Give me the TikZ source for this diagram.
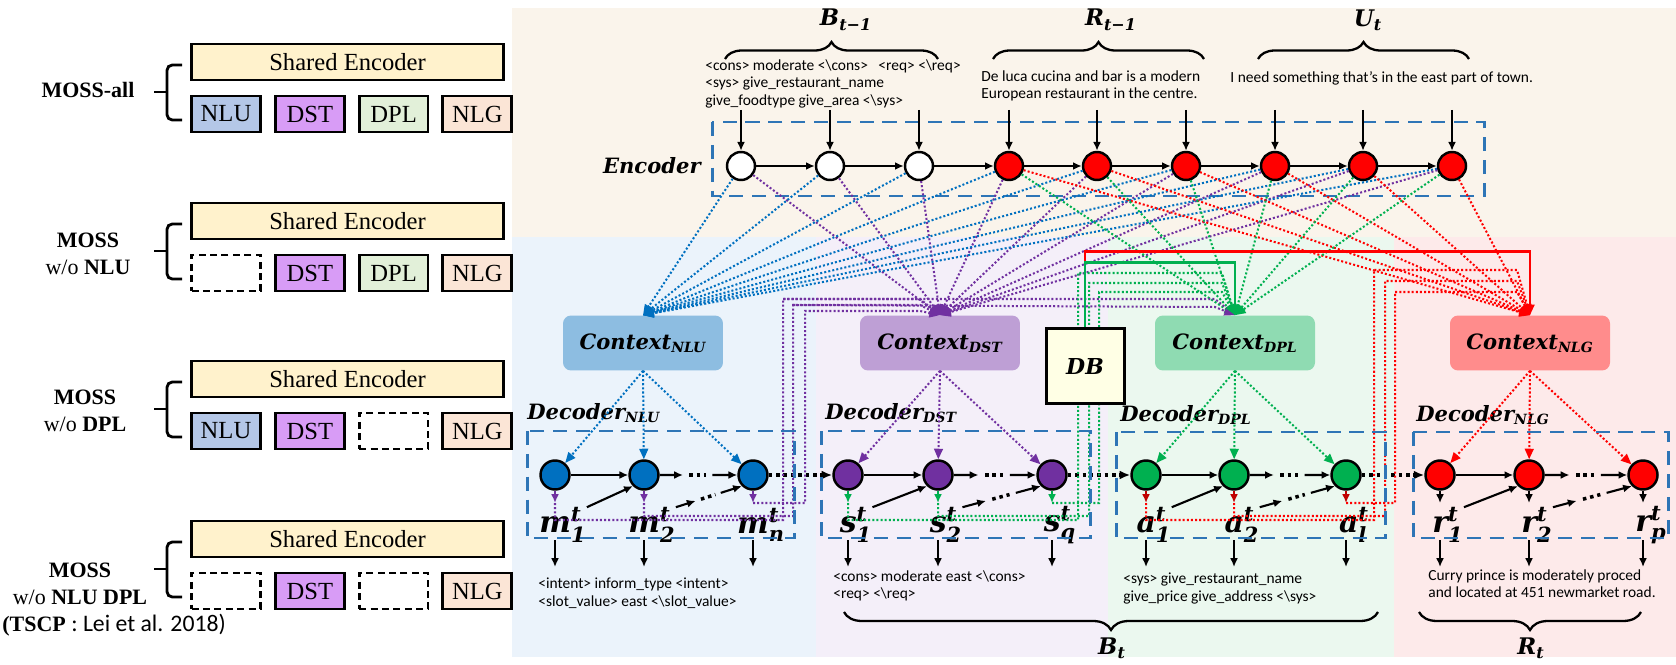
\documentclass[tikz,border=0pt]{standalone}
\usepackage{amsmath}
\usepackage[no-math]{fontspec}
\setmainfont{Liberation Serif}
\newfontfamily\gillfont{Carlito}
\newfontfamily\dvserif{DejaVu Serif}
\usetikzlibrary{arrows.meta, positioning, decorations.pathreplacing, calc}

\newcommand\bist{\dvserif\bfseries\itshape}
\newcommand\bilbl[2]{$\text{\bist #1}_{\text{\bist #2}}$}
\newcommand\bisym[3]{$\text{\bist #1}_{\text{\bist #2}}^{\text{\bist #3}}$}

\definecolor{cblue}{HTML}{0070C0}
\definecolor{cpurp}{HTML}{7030A0}
\definecolor{cgreen}{HTML}{00B050}
\definecolor{cred}{HTML}{FF0000}
\definecolor{cdark}{HTML}{C00000}
\definecolor{dashblue}{HTML}{2E75B6}
\definecolor{encfill}{HTML}{FFF2CC}
\definecolor{modnlu}{HTML}{B4C7E7}
\definecolor{moddst}{HTML}{D89CF6}
\definecolor{moddpl}{HTML}{E2F0D9}
\definecolor{modnlg}{HTML}{FBE5D6}
\definecolor{ctxnlu}{HTML}{8DBDE1}
\definecolor{ctxdst}{HTML}{BE9FD5}
\definecolor{ctxdpl}{HTML}{8FDBB2}
\definecolor{ctxnlg}{HTML}{FF8C8C}
\definecolor{bgtop}{HTML}{FAF4EB}
\definecolor{bgnlu}{HTML}{EBF3FB}
\definecolor{bgdst}{HTML}{F4EFF9}
\definecolor{bgdpl}{HTML}{EBF8EF}
\definecolor{bgnlg}{HTML}{FDEAEA}
\definecolor{dbfill}{HTML}{FFFFE5}

\tikzset{
    encbar/.style={
        rectangle, draw=black, fill=encfill, line width=1.6pt,
        minimum width=6.24cm, minimum height=0.72cm,
        font=\fontsize{14}{16}\selectfont,
    },
    modbox/.style={
        rectangle, draw=black, line width=1.6pt,
        minimum width=1.38cm, minimum height=0.72cm,
        font=\fontsize{14}{16}\selectfont,
    },
    blankbox/.style={modbox, dash pattern=on 4pt off 2.5pt},
    grplbl/.style={align=center, inner sep=0pt, font=\fontsize{12.5}{15.4}\selectfont},
    grpbrace/.style={line width=1.6pt, rounded corners=3pt},
    enccirc/.style={circle, draw=black, line width=1.4pt, minimum size=0.56cm, inner sep=0pt},
    deccirc/.style={enccirc, minimum size=0.58cm},
    ctx/.style={
        rectangle, rounded corners=0.16cm,
        minimum width=3.2cm, minimum height=1.1cm,
        font=\fontsize{12}{14}\selectfont,
    },
    dbbox/.style={
        rectangle, draw=black, fill=dbfill, line width=1.7pt,
        minimum width=1.56cm, minimum height=1.52cm,
        font=\fontsize{12.5}{14}\selectfont,
    },
    biglbl/.style={inner sep=0pt, font=\fontsize{12}{14}\selectfont},
    seglbl/.style={inner sep=0pt, font=\fontsize{13}{15}\selectfont},
    symlbl/.style={inner sep=0pt, font=\fontsize{17}{18}\selectfont},
    smalltxt/.style={align=left, inner sep=0pt, font=\gillfont\fontsize{8.8}{10}\selectfont},
    dashbox/.style={draw=dashblue, line width=1.7pt, dash pattern=on 8pt off 5pt},
    solidarr/.style={-{Latex[length=5pt,width=4.5pt]}, line width=1.2pt},
    inarr/.style={-{Latex[length=5pt,width=4.5pt]}, line width=1.3pt},
    dotline/.style={line width=1.15pt, dash pattern=on 1.15pt off 1.2pt, -{Triangle[length=6pt,width=5pt]}},
    blkdots/.style={line width=2pt, dash pattern=on 2pt off 2.2pt},
    linkdots/.style={blkdots, -{Latex[length=6pt,width=5pt]}},
    dblink/.style={line width=1.4pt, -{Triangle[length=6pt,width=5pt]}},
    topbrace/.style={decorate, decoration={brace, amplitude=0.34cm}, line width=1.3pt},
    botbrace/.style={decorate, decoration={brace, amplitude=0.36cm}, line width=1.3pt},
}

\begin{document}
\begin{tikzpicture}[x=0.02cm, y=-0.02cm, node distance=0.24cm]
    \useasboundingbox (0,0) rectangle (1676,665);

    % background panels
    \fill[bgtop] (512,8) rectangle (1676,237);
    \fill[bgnlu] (512,237) rectangle (816,657);
    \fill[bgdst] (816,237) rectangle (1108,657);
    \fill[bgdpl] (1108,237) rectangle (1394,657);
    \fill[bgnlg] (1394,237) rectangle (1676,657);

    % left panel: model variants
    \foreach \g/\ty in {1/43, 2/202, 3/360, 4/520} {
        \node[encbar] (bar\g) at (347.5,\ty+19) {Shared Encoder};
        \draw[grpbrace] (182,\ty+22) -- (167,\ty+22) -- (167,\ty+77) -- (182,\ty+77);
        \draw[grpbrace] (167,\ty+49) -- (154,\ty+49);
    }
    \node[modbox, fill=modnlu] (n1a) at (226,114) {NLU};
    \node[modbox, fill=moddst, right=of n1a] (n1b) {DST};
    \node[modbox, fill=moddpl, right=of n1b] (n1c) {DPL};
    \node[modbox, fill=modnlg, right=of n1c] (n1d) {NLG};
    \node[blankbox] (n2a) at (226,273) {};
    \node[modbox, fill=moddst, right=of n2a] (n2b) {DST};
    \node[modbox, fill=moddpl, right=of n2b] (n2c) {DPL};
    \node[modbox, fill=modnlg, right=of n2c] (n2d) {NLG};
    \node[modbox, fill=modnlu] (n3a) at (226,431) {NLU};
    \node[modbox, fill=moddst, right=of n3a] (n3b) {DST};
    \node[blankbox, right=of n3b] (n3c) {};
    \node[modbox, fill=modnlg, right=of n3c] (n3d) {NLG};
    \node[blankbox] (n4a) at (226,591) {};
    \node[modbox, fill=moddst, right=of n4a] (n4b) {DST};
    \node[blankbox, right=of n4b] (n4c) {};
    \node[modbox, fill=modnlg, right=of n4c] (n4d) {NLG};

    \node[grplbl] (g1lbl) at (88,90) {\textbf{MOSS-all}};
    \node[grplbl] (g2lbl) at (88,254) {\textbf{MOSS}\\w/o \textbf{NLU}};
    \node[grplbl] (g3lbl) at (85,411) {\textbf{MOSS}\\w/o \textbf{DPL}};
    \node[grplbl] (g4lbl) at (80,584) {\textbf{MOSS}\\w/o \textbf{NLU DPL}};
    \node[grplbl, anchor=west] (g4ref) at (2,625)
        {\textbf{(TSCP} {\gillfont\fontsize{13.5}{15}\selectfont : Lei et al. 2018)}};

    % encoder
    \draw[dashbox] (712,122) rectangle (1484,196);
    \node[biglbl, anchor=east] (enclbl) at (701,166) {\bist Encoder};
    \foreach \i/\x/\fc in {1/741/white, 2/830/white, 3/919/white, 4/1009/cred,
                           5/1097/cred, 6/1186/cred, 7/1275/cred, 8/1363/cred, 9/1452/cred} {
        \node[enccirc, fill=\fc] (e\i) at (\x,166) {};
        \coordinate (ein\i) at (\x,110);
        \draw[inarr] (ein\i) -- (e\i);
    }
    \foreach \i [count=\j from 2] in {1,...,8}
        \draw[solidarr] (e\i) -- (e\j);

    \node[smalltxt, anchor=north west] (btxt) at (705,59)
        {<cons> moderate <\textbackslash cons>\ \ \ <req> <\textbackslash req>\\
         <sys> give\_restaurant\_name\\
         give\_foodtype give\_area <\textbackslash sys>};
    \node[smalltxt, anchor=north west] (rtxt) at (981,70)
        {De luca cucina and bar is a modern\\European restaurant in the centre.};
    \node[smalltxt, anchor=west] (utxt) at (1230,78)
        {I need something that’s in the east part of town.};

    \draw[topbrace] (725,59) -- (938,59);
    \node[seglbl] (blbl) at (846,20) {\bilbl{B}{t−1}};
    \draw[topbrace] (993,59) -- (1204,59);
    \node[seglbl] (rlbl) at (1111,20) {\bilbl{R}{t−1}};
    \draw[topbrace] (1258,59) -- (1469,59);
    \node[seglbl] (ulbl) at (1368,20) {\bilbl{U}{t}};

    % contexts
    \node[ctx, fill=ctxnlu] (cnlu) at (643,343) {\bilbl{Context}{NLU}};
    \node[ctx, fill=ctxdst] (cdst) at (940,343) {\bilbl{Context}{DST}};
    \node[ctx, fill=ctxdpl] (cdpl) at (1235,343) {\bilbl{Context}{DPL}};
    \node[ctx, fill=ctxnlg] (cnlg) at (1530,343) {\bilbl{Context}{NLG}};

    % decoders
    \node[biglbl, anchor=west] (lnlu) at (527,413) {\bilbl{Decoder}{NLU}};
    \node[biglbl, anchor=west] (ldst) at (825,413) {\bilbl{Decoder}{DST}};
    \node[biglbl, anchor=west] (ldpl) at (1120,415) {\bilbl{Decoder}{DPL}};
    \node[biglbl, anchor=west] (lnlg) at (1416,415) {\bilbl{Decoder}{NLG}};

    \foreach \dn/\xa/\xb/\xc/\fc/\tc/\sy/\kc in {
            nlu/555/644/753/cblue/cpurp/m/n, dst/848/938/1052/cpurp/cgreen/s/q,
            dpl/1146/1234/1346/cgreen/cdark/a/l, nlg/1440/1529/1643/cred/black/r/p} {
        \node[deccirc, fill=\fc] (\dn1) at (\xa,475) {};
        \node[deccirc, fill=\fc] (\dn2) at (\xb,475) {};
        \node[deccirc, fill=\fc] (\dn3) at (\xc,475) {};
        \node[symlbl] (\dn-l1) at (\xa+8,525) {\bisym{\sy}{1}{t}};
        \node[symlbl] (\dn-l2) at (\xb+8,525) {\bisym{\sy}{2}{t}};
        \node[symlbl] (\dn-l3) at (\xc+8,525) {\bisym{\sy}{\kc}{t}};
        \foreach \k in {1,2,3} {
            \coordinate (\dn-t\k) at (\dn\k |- 0,503);
            \draw[solidarr, color=\tc] (\dn\k) -- (\dn-t\k);
            \draw[solidarr] (\dn\k |- 0,540) -- (\dn\k |- 0,567);
            \draw[dotline, color=\fc] (c\dn.south) -- (\dn\k);
        }
        \draw[solidarr] (\dn1) -- (\dn2);
        \draw[solidarr] (\dn2.east) -- ($(\dn2.east)!0.3!(\dn3.west)$);
        \draw[blkdots] ($(\dn2.east)!0.38!(\dn3.west)$) -- ($(\dn2.east)!0.6!(\dn3.west)$);
        \draw[solidarr] ($(\dn2.east)!0.68!(\dn3.west)$) -- (\dn3.west);
        \draw[solidarr] (\dn-l1.north east) -- (\dn2.south west);
        \draw[solidarr] (\dn-l2.north east) -- ($(\dn-l2.north east)!0.3!(\dn3.south west)$);
        \draw[blkdots] ($(\dn-l2.north east)!0.38!(\dn3.south west)$) -- ($(\dn-l2.north east)!0.6!(\dn3.south west)$);
        \draw[solidarr] ($(\dn-l2.north east)!0.68!(\dn3.south west)$) -- (\dn3.south west);
    }
    \draw[linkdots] (nlu3) -- (dst1);
    \draw[linkdots] (dst3) -- (dpl1);
    \draw[linkdots] (dpl3) -- (nlg1);

    % encoder states to every context
    \foreach \i in {1,...,9} {
        \draw[dotline, color=cblue] (e\i) -- (cnlu.north);
        \draw[dotline, color=cpurp] (e\i) -- (cdst.north);
    }
    \foreach \i in {4,...,9} {
        \draw[dotline, color=cgreen] (e\i) -- (cdpl.north);
        \draw[dotline, color=cred] (e\i) -- (cnlg.north);
    }

    % decoder outputs fed forward
    \draw[dotline, color=cpurp] (nlu-t1) |- (783,520) -- (783,299) coordinate (pj1) -- (920,299) -- (cdst.north);
    \draw[dotline, color=cpurp] (nlu-t2) |- (793,516) -- (793,305) coordinate (pj2) -- (920,305) -- (cdst.north);
    \draw[dotline, color=cpurp] (nlu-t3) |- (805,503) -- (805,311) -- (920,311) -- (cdst.north);
    \draw[dotline, color=cpurp] (pj1) -- (1215,299) -- (cdpl.north);
    \draw[dotline, color=cpurp] (pj2) -- (1215,307) -- (cdpl.north);
    \draw[dotline, color=cgreen] (dst-t1) |- (1078,520) -- (1078,273) -- (1222,273) -- (cdpl.north);
    \draw[dotline, color=cgreen] (dst-t2) |- (1089,516) -- (1089,283) -- (1222,283) -- (cdpl.north);
    \draw[dotline, color=cgreen] (dst-t3) |- (1099,503) -- (1099,292) -- (1222,292) -- (cdpl.north);
    \draw[dotline, color=cred] (dpl-t1) |- (1374,520) -- (1374,270) -- (1517,270) -- (cnlg.north);
    \draw[dotline, color=cred] (dpl-t2) |- (1385,516) -- (1385,281) -- (1517,281) -- (cnlg.north);
    \draw[dotline, color=cred] (dpl-t3) |- (1395,503) -- (1395,292) -- (1517,292) -- (cnlg.north);

    % database
    \node[dbbox] (db) at (1085,366) {\bist DB};
    \draw[dblink, color=cred] (db.north) -- ++(0,-75) -| (cnlg.north);
    \draw[dblink, color=cgreen] (db.north) -- ++(0,-64) -| (cdpl.north);

    % decoder frames
    \draw[dashbox] (527,431) rectangle (794,538);
    \draw[dashbox] (821,431) rectangle (1090,538);
    \draw[dashbox] (1116,432) rectangle (1385,538);
    \draw[dashbox] (1413,432) rectangle (1668,538);

    % decoder outputs
    \node[smalltxt, anchor=north west] (onlu) at (538,578)
        {<intent> inform\_type <intent>\\<slot\_value> east <\textbackslash slot\_value>};
    \node[smalltxt, anchor=north west] (odst) at (833,570)
        {<cons> moderate east <\textbackslash cons>\\<req> <\textbackslash req>};
    \node[smalltxt, anchor=north west] (odpl) at (1123,573)
        {<sys> give\_restaurant\_name\\give\_price give\_address <\textbackslash sys>};
    \node[smalltxt, anchor=north west] (onlg) at (1428,569)
        {Curry prince is moderately proced\\and located at 451 newmarket road.};

    \draw[botbrace] (1378,612) -- (844,612);
    \node[seglbl] (btlbl) at (1112,648) {\bilbl{B}{t}};
    \draw[botbrace] (1641,612) -- (1419,612);
    \node[seglbl] (rtlbl) at (1531,648) {\bilbl{R}{t}};
\end{tikzpicture}
\end{document}
